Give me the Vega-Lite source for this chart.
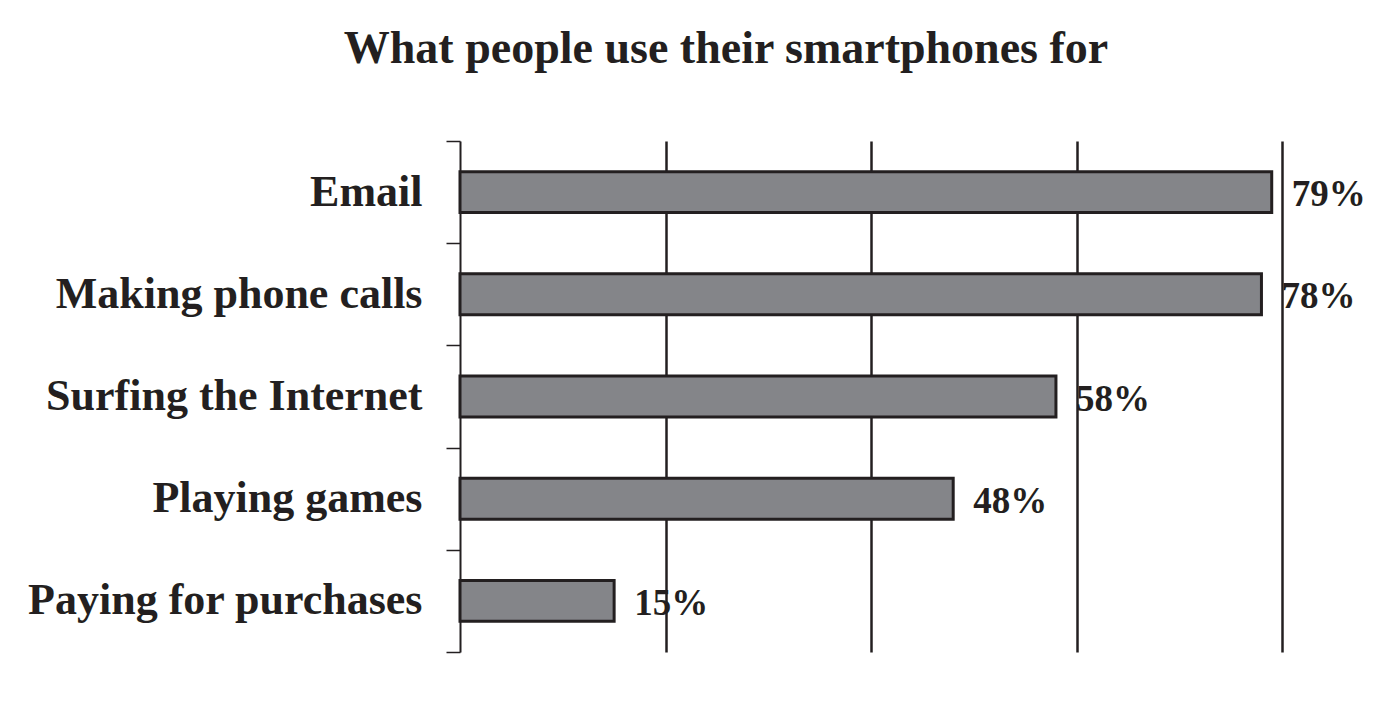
{
  "$schema": "https://vega.github.io/schema/vega-lite/v6.json",
  "autosize": {"type": "none"},
  "padding": {"left": 460, "top": 141, "right": 114, "bottom": 64},
  "width": 822,
  "height": 511,
  "background": "white",
  "view": {"stroke": null},
  "title": {
    "text": "What people use their smartphones for",
    "font": "Liberation Serif",
    "fontSize": 46,
    "fontWeight": "bold",
    "color": "#231f20",
    "anchor": "middle",
    "frame": "group",
    "dx": -145,
    "offset": 46
  },
  "data": {
    "values": [
      {"use": "Email", "pct": 79},
      {"use": "Making phone calls", "pct": 78},
      {"use": "Surfing the Internet", "pct": 58},
      {"use": "Playing games", "pct": 48},
      {"use": "Paying for purchases", "pct": 15}
    ]
  },
  "encoding": {
    "y": {
      "field": "use",
      "type": "nominal",
      "sort": null,
      "title": null,
      "scale": {"paddingInner": 0, "paddingOuter": 0},
      "axis": {
        "tickBand": "extent",
        "grid": false,
        "domainColor": "#231f20",
        "domainWidth": 2,
        "tickColor": "#231f20",
        "tickWidth": 1.5,
        "tickSize": 14,
        "labelPadding": 24,
        "labelLimit": 600,
        "labelFont": "Liberation Serif",
        "labelFontSize": 44,
        "labelFontWeight": "bold",
        "labelColor": "#231f20"
      }
    },
    "x": {
      "field": "pct",
      "type": "quantitative",
      "title": null,
      "scale": {"domain": [0, 80], "nice": false},
      "axis": {
        "values": [20, 40, 60, 80],
        "grid": true,
        "gridColor": "#231f20",
        "gridWidth": 2.5,
        "gridOpacity": 1,
        "domain": false,
        "ticks": false,
        "labels": false
      }
    }
  },
  "layer": [
    {
      "mark": {
        "type": "bar",
        "height": {"band": 0.4},
        "fill": "#848589",
        "stroke": "#231f20",
        "strokeWidth": 3
      }
    },
    {
      "transform": [{"calculate": "datum.pct + '%'", "as": "label"}],
      "mark": {
        "type": "text",
        "align": "left",
        "baseline": "middle",
        "dx": 20,
        "dy": 3,
        "font": "Liberation Serif",
        "fontSize": 37,
        "fontWeight": "bold",
        "color": "#231f20"
      },
      "encoding": {
        "text": {"field": "label", "type": "nominal"}
      }
    }
  ]
}
